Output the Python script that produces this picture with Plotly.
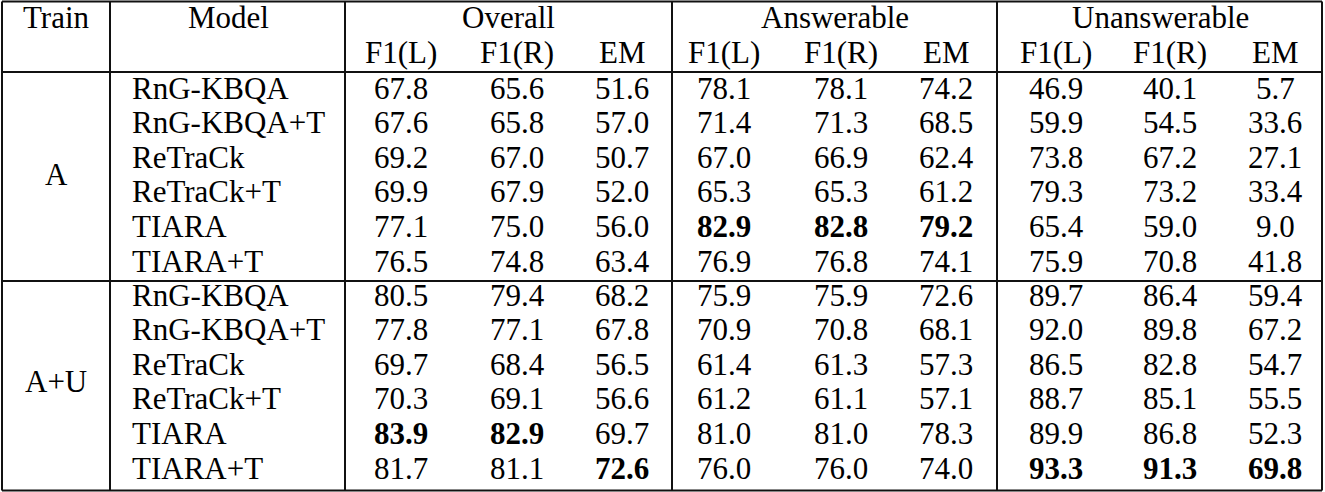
import plotly.graph_objects as go

# ---------------- data ----------------
train_groups = ["A", "A+U"]
models = ["RnG-KBQA", "RnG-KBQA+T", "ReTraCk", "ReTraCk+T", "TIARA", "TIARA+T"]
group_names = ["Overall", "Answerable", "Unanswerable"]
metric_names = ["F1(L)", "F1(R)", "EM"]

overall_A = [[67.8, 65.6, 51.6], [67.6, 65.8, 57.0], [69.2, 67.0, 50.7],
             [69.9, 67.9, 52.0], [77.1, 75.0, 56.0], [76.5, 74.8, 63.4]]
answerable_A = [[78.1, 78.1, 74.2], [71.4, 71.3, 68.5], [67.0, 66.9, 62.4],
                [65.3, 65.3, 61.2], [82.9, 82.8, 79.2], [76.9, 76.8, 74.1]]
unanswerable_A = [[46.9, 40.1, 5.7], [59.9, 54.5, 33.6], [73.8, 67.2, 27.1],
                  [79.3, 73.2, 33.4], [65.4, 59.0, 9.0], [75.9, 70.8, 41.8]]
overall_AU = [[80.5, 79.4, 68.2], [77.8, 77.1, 67.8], [69.7, 68.4, 56.5],
              [70.3, 69.1, 56.6], [83.9, 82.9, 69.7], [81.7, 81.1, 72.6]]
answerable_AU = [[75.9, 75.9, 72.6], [70.9, 70.8, 68.1], [61.4, 61.3, 57.3],
                 [61.2, 61.1, 57.1], [81.0, 81.0, 78.3], [76.0, 76.0, 74.0]]
unanswerable_AU = [[89.7, 86.4, 59.4], [92.0, 89.8, 67.2], [86.5, 82.8, 54.7],
                   [88.7, 85.1, 55.5], [89.9, 86.8, 52.3], [93.3, 91.3, 69.8]]

# bold cells: (train group, model row, group index, metric index)
bold_cells = [
    (0, 4, 1, 0), (0, 4, 1, 1), (0, 4, 1, 2),
    (1, 4, 0, 0), (1, 4, 0, 1),
    (1, 5, 0, 2), (1, 5, 2, 0), (1, 5, 2, 1), (1, 5, 2, 2),
]

values = [
    [overall_A, answerable_A, unanswerable_A],
    [overall_AU, answerable_AU, unanswerable_AU],
]

# ---------------- layout geometry ----------------
W, H = 1325, 492
FONT = "Liberation Serif, Times New Roman, serif"
FS = 31
col_centers = [[401, 517, 622], [724, 841, 946], [1056, 1170, 1275]]
group_centers = [508, 835, 1160]
vlines = [2, 110, 345, 672, 997, 1322]
train_x = 56
model_header_x = 228
model_x = 130
header_y1, header_y2 = 17.5, 52
row_y = [[88, 122.6, 157.2, 191.8, 226.4, 261],
         [295, 329.6, 364.2, 398.8, 433.4, 468]]
hlines = [1.5, 72, 281, 490.5]

fig = go.Figure()
ann = []


def txt(x, y, s, anchor="center", bold=False):
    ann.append(dict(x=x, y=y, xref="x", yref="y", text=("<b>%s</b>" % s) if bold else s,
                    showarrow=False, xanchor=anchor, yanchor="middle",
                    font=dict(family=FONT, size=FS, color="black")))


# header
txt(train_x, header_y1, "Train")
txt(model_header_x, header_y1, "Model")
for g, gname in enumerate(group_names):
    txt(group_centers[g], header_y1, gname)
    for m, mname in enumerate(metric_names):
        txt(col_centers[g][m], header_y2, mname)

# body
for t, tname in enumerate(train_groups):
    txt(train_x, (row_y[t][0] + row_y[t][-1]) / 2, tname)
    for r, mname in enumerate(models):
        txt(model_x, row_y[t][r], mname, anchor="left")
        for g in range(3):
            for m in range(3):
                v = values[t][g][r][m]
                txt(col_centers[g][m], row_y[t][r], "%.1f" % v,
                    bold=(t, r, g, m) in bold_cells)

shapes = []
for y in hlines:
    shapes.append(dict(type="line", xref="x", yref="y", x0=vlines[0], x1=vlines[-1],
                       y0=y, y1=y, line=dict(color="#111", width=2)))
for x in vlines:
    shapes.append(dict(type="line", xref="x", yref="y", x0=x, x1=x,
                       y0=hlines[0], y1=hlines[-1], line=dict(color="#111", width=2)))

fig.update_layout(
    width=W, height=H, margin=dict(l=0, r=0, t=0, b=0),
    paper_bgcolor="white", plot_bgcolor="white",
    xaxis=dict(range=[0, W], visible=False, fixedrange=True),
    yaxis=dict(range=[H, 0], visible=False, fixedrange=True),
    annotations=ann, shapes=shapes, showlegend=False,
)

fig.write_html("out.html", config={"displayModeBar": False},
               post_script="document.body.style.margin='0';document.body.style.overflow='hidden';")
